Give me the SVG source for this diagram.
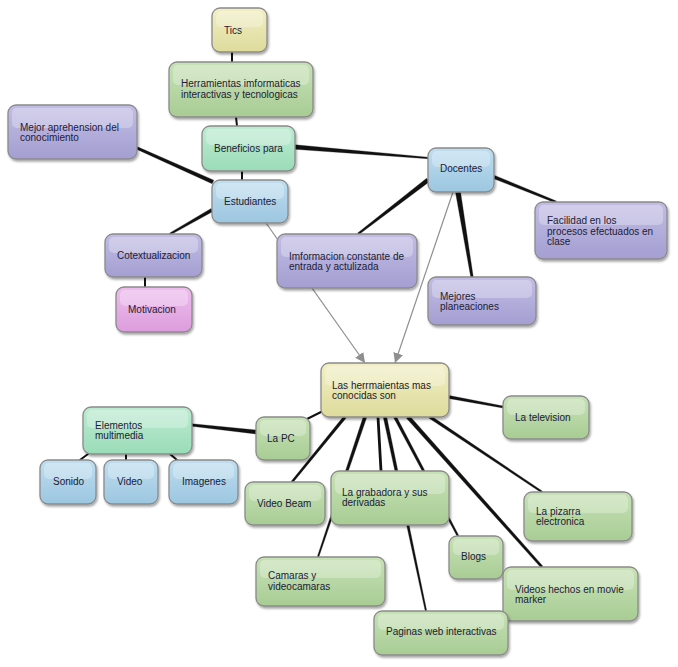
<svg xmlns="http://www.w3.org/2000/svg" width="678" height="667" viewBox="0 0 678 667">
<defs>
<style>
text{font-family:"Liberation Sans",Arial,sans-serif;font-size:10px;fill:#202036}
.n{stroke:#8a8a8a;stroke-width:1.3;filter:url(#sh)}
.hl{fill:#fff;opacity:0.28;stroke:none}
.c{stroke:#111;fill:none;stroke-linecap:round}
.t{fill:#111;stroke:#111;stroke-width:0.3}
.g{stroke:#8f8f8f;stroke-width:1.2;fill:none}
</style>
<filter id="sh" x="-20%" y="-20%" width="140%" height="150%">
<feDropShadow dx="1.2" dy="2" stdDeviation="1.3" flood-color="#000" flood-opacity="0.35"/>
</filter>
<linearGradient id="gy" x1="0" y1="0" x2="0" y2="1"><stop offset="0" stop-color="#f1efc4"/><stop offset="1" stop-color="#dedb9c"/></linearGradient>
<linearGradient id="gg" x1="0" y1="0" x2="0" y2="1"><stop offset="0" stop-color="#c7e2b6"/><stop offset="1" stop-color="#a8cc94"/></linearGradient>
<linearGradient id="gm" x1="0" y1="0" x2="0" y2="1"><stop offset="0" stop-color="#bdebd2"/><stop offset="1" stop-color="#9bdcb8"/></linearGradient>
<linearGradient id="gb" x1="0" y1="0" x2="0" y2="1"><stop offset="0" stop-color="#bfdef0"/><stop offset="1" stop-color="#9cc6e0"/></linearGradient>
<linearGradient id="gp" x1="0" y1="0" x2="0" y2="1"><stop offset="0" stop-color="#c2bde4"/><stop offset="1" stop-color="#a49ed2"/></linearGradient>
<linearGradient id="gk" x1="0" y1="0" x2="0" y2="1"><stop offset="0" stop-color="#eebdee"/><stop offset="1" stop-color="#dc9ddc"/></linearGradient>
<marker id="ar" markerUnits="userSpaceOnUse" markerWidth="10" markerHeight="10" viewBox="0 0 10 10" refX="10" refY="5" orient="auto">
<path d="M0,0 L10,5 L0,10 Z" fill="#8f8f8f"/>
</marker>
</defs>
<rect width="678" height="667" fill="#fff"/>
<g id="connectors">
<line class="c" stroke-width="2" x1="232" y1="52" x2="232" y2="62"/>
<line class="c" stroke-width="2" x1="236" y1="117" x2="237" y2="126"/>
<line class="c" stroke-width="2" x1="242" y1="171" x2="242" y2="180"/>
<polygon class="t" points="294.81,149.24 427.94,158.75 428.06,157.25 295.19,144.76"/>
<polygon class="t" points="213.82,180.17 137.51,146.86 136.49,149.14 212.18,183.83"/>
<polygon class="t" points="211.13,208.48 169.50,233.13 170.50,234.87 212.87,211.52"/>
<line class="c" stroke-width="2" x1="145" y1="277" x2="145" y2="287"/>
<line class="g" x1="266" y1="223" x2="365" y2="363" marker-end="url(#ar)"/>
<line class="g" x1="453" y1="192" x2="395" y2="363" marker-end="url(#ar)"/>
<polygon class="t" points="426.63,178.22 357.39,233.21 358.61,234.79 429.37,181.78"/>
<polygon class="t" points="455.53,192.41 470.77,277.20 473.23,276.80 460.47,191.59"/>
<polygon class="t" points="493.35,178.62 555.63,202.93 556.37,201.07 494.65,175.38"/>
<polygon class="t" points="448.73,398.47 502.82,407.98 503.18,406.02 449.27,395.53"/>
<line class="c" stroke-width="2" x1="321" y1="412" x2="307" y2="419"/>
<polygon class="t" points="256.22,430.01 192.14,423.76 191.86,426.24 255.78,433.99"/>
<line class="c" stroke-width="2" x1="88" y1="454" x2="80" y2="460"/>
<line class="c" stroke-width="2" x1="126" y1="454" x2="126" y2="460"/>
<line class="c" stroke-width="2" x1="170" y1="454" x2="177" y2="460"/>
<polygon class="t" points="343.84,416.05 291.23,481.37 292.78,482.63 346.16,417.95"/>
<polygon class="t" points="363.34,416.44 317.29,556.76 318.71,557.24 366.66,417.56"/>
<line class="c" stroke-width="2.8" x1="378" y1="417" x2="381" y2="471"/>
<polygon class="t" points="383.29,417.36 425.27,611.16 426.73,610.84 386.71,416.64"/>
<polygon class="t" points="393.67,417.70 457.20,536.42 458.80,535.58 396.33,416.30"/>
<polygon class="t" points="406.51,418.33 541.07,567.83 542.93,566.17 409.49,415.67"/>
<polygon class="t" points="429.17,418.25 541.50,492.75 542.50,491.25 430.83,415.75"/>
</g>
<g id="tics"><rect class="n" x="212" y="8" width="55" height="44" rx="8" fill="url(#gy)"/><rect class="hl" x="216" y="11" width="47" height="16" rx="5"/><text x="224" y="33.5">Tics</text></g>
<g id="herramientas"><rect class="n" x="169" y="62" width="144" height="55" rx="8" fill="url(#gg)"/><rect class="hl" x="173" y="65" width="136" height="20" rx="5"/><text x="181" y="87">Herramientas imformaticas</text><text x="181" y="97.5">interactivas y tecnologicas</text></g>
<g id="beneficios"><rect class="n" x="202" y="126" width="93" height="45" rx="8" fill="url(#gm)"/><rect class="hl" x="206" y="129" width="85" height="16" rx="5"/><text x="214" y="151.5">Beneficios para</text></g>
<g id="estudiantes"><rect class="n" x="212" y="180" width="76" height="43" rx="8" fill="url(#gb)"/><rect class="hl" x="216" y="183" width="68" height="16" rx="5"/><text x="224" y="204.5">Estudiantes</text></g>
<g id="mejor-aprehension"><rect class="n" x="8" y="105" width="129" height="54" rx="8" fill="url(#gp)"/><rect class="hl" x="12" y="108" width="121" height="20" rx="5"/><text x="20" y="130.5">Mejor aprehension del</text><text x="20" y="141">conocimiento</text></g>
<g id="cotextualizacion"><rect class="n" x="105" y="234" width="97" height="43" rx="8" fill="url(#gp)"/><rect class="hl" x="109" y="237" width="89" height="16" rx="5"/><text x="117" y="258.5">Cotextualizacion</text></g>
<g id="motivacion"><rect class="n" x="116" y="287" width="76" height="45" rx="8" fill="url(#gk)"/><rect class="hl" x="120" y="290" width="68" height="16" rx="5"/><text x="128" y="312.5">Motivacion</text></g>
<g id="imformacion"><rect class="n" x="277" y="234" width="140" height="54" rx="8" fill="url(#gp)"/><rect class="hl" x="281" y="237" width="132" height="20" rx="5"/><text x="289" y="259.5">Imformacion constante de</text><text x="289" y="270">entrada y actulizada</text></g>
<g id="docentes"><rect class="n" x="428" y="148" width="66" height="44" rx="8" fill="url(#gb)"/><rect class="hl" x="432" y="151" width="58" height="16" rx="5"/><text x="440" y="172">Docentes</text></g>
<g id="facilidad"><rect class="n" x="535" y="202" width="132" height="57" rx="8" fill="url(#gp)"/><rect class="hl" x="539" y="205" width="124" height="20" rx="5"/><text x="547" y="224">Facilidad en los</text><text x="547" y="234.5">procesos efectuados en</text><text x="547" y="245">clase</text></g>
<g id="mejores-planeaciones"><rect class="n" x="428" y="277" width="108" height="48" rx="8" fill="url(#gp)"/><rect class="hl" x="432" y="280" width="100" height="18" rx="5"/><text x="440" y="299.5">Mejores</text><text x="440" y="310">planeaciones</text></g>
<g id="las-herramientas"><rect class="n" x="321" y="363" width="128" height="54" rx="8" fill="url(#gy)"/><rect class="hl" x="325" y="366" width="120" height="20" rx="5"/><text x="332" y="388.5">Las herrmaientas mas</text><text x="332" y="399">conocidas son</text></g>
<g id="television"><rect class="n" x="503" y="396" width="86" height="43" rx="8" fill="url(#gg)"/><rect class="hl" x="507" y="399" width="78" height="16" rx="5"/><text x="515" y="420.5">La television</text></g>
<g id="pc"><rect class="n" x="256" y="417" width="54" height="43" rx="8" fill="url(#gg)"/><rect class="hl" x="260" y="420" width="46" height="16" rx="5"/><text x="267" y="441.5">La PC</text></g>
<g id="video-beam"><rect class="n" x="245" y="482" width="80" height="43" rx="8" fill="url(#gg)"/><rect class="hl" x="249" y="485" width="72" height="16" rx="5"/><text x="257" y="506.5">Video Beam</text></g>
<g id="grabadora"><rect class="n" x="331" y="471" width="118" height="54" rx="8" fill="url(#gg)"/><rect class="hl" x="335" y="474" width="110" height="20" rx="5"/><text x="342" y="495.5">La grabadora y sus</text><text x="342" y="506">derivadas</text></g>
<g id="pizarra"><rect class="n" x="524" y="492" width="108" height="49" rx="8" fill="url(#gg)"/><rect class="hl" x="528" y="495" width="100" height="18" rx="5"/><text x="536" y="514.5">La pizarra</text><text x="536" y="525">electronica</text></g>
<g id="blogs"><rect class="n" x="449" y="536" width="54" height="43" rx="8" fill="url(#gg)"/><rect class="hl" x="453" y="539" width="46" height="16" rx="5"/><text x="461" y="560">Blogs</text></g>
<g id="camaras"><rect class="n" x="256" y="557" width="129" height="49" rx="8" fill="url(#gg)"/><rect class="hl" x="260" y="560" width="121" height="18" rx="5"/><text x="268" y="579">Camaras y</text><text x="268" y="589.5">videocamaras</text></g>
<g id="videos-movie"><rect class="n" x="503" y="567" width="135" height="54" rx="8" fill="url(#gg)"/><rect class="hl" x="507" y="570" width="127" height="20" rx="5"/><text x="515" y="592.5">Videos hechos en movie</text><text x="515" y="603">marker</text></g>
<g id="paginas-web"><rect class="n" x="374" y="611" width="134" height="44" rx="8" fill="url(#gg)"/><rect class="hl" x="378" y="614" width="126" height="16" rx="5"/><text x="386" y="635">Paginas web interactivas</text></g>
<g id="elementos"><rect class="n" x="83" y="407" width="109" height="47" rx="8" fill="url(#gm)"/><rect class="hl" x="87" y="410" width="101" height="18" rx="5"/><text x="95" y="428.5">Elementos</text><text x="95" y="439">multimedia</text></g>
<g id="sonido"><rect class="n" x="40" y="460" width="56" height="44" rx="8" fill="url(#gb)"/><rect class="hl" x="44" y="463" width="48" height="16" rx="5"/><text x="53" y="485">Sonido</text></g>
<g id="video"><rect class="n" x="104" y="460" width="54" height="44" rx="8" fill="url(#gb)"/><rect class="hl" x="108" y="463" width="46" height="16" rx="5"/><text x="117" y="485">Video</text></g>
<g id="imagenes"><rect class="n" x="169" y="460" width="69" height="44" rx="8" fill="url(#gb)"/><rect class="hl" x="173" y="463" width="61" height="16" rx="5"/><text x="182" y="485">Imagenes</text></g>
</svg>
